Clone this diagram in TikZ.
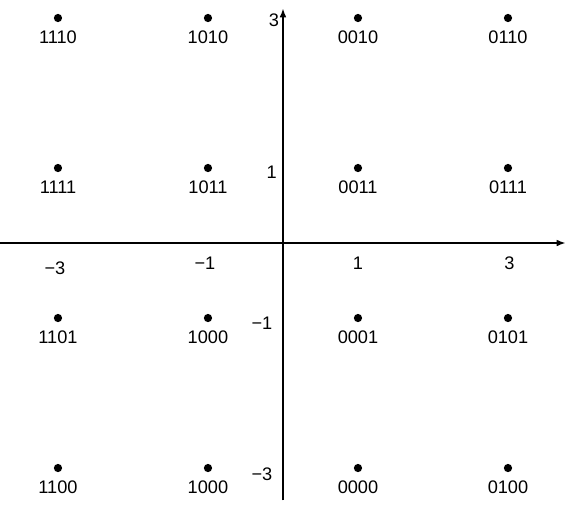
\documentclass[tikz,border=0pt]{standalone}
\usepackage{fontspec}
\setmainfont{Liberation Sans}
\usetikzlibrary{arrows.meta,positioning}

\begin{document}
\begin{tikzpicture}[x=1cm,y=1cm,
  dot/.style={circle,fill=black,inner sep=0pt,minimum size=0.11cm},
  bitlabel/.style={inner sep=0pt,font=\fontsize{6.9}{8}\selectfont},
  ticklabel/.style={inner sep=0pt,font=\fontsize{6.9}{8}\selectfont},
  axis/.style={line width=0.85pt,-{Latex[length=0.12cm,width=0.09cm]}}]
\useasboundingbox (-3.773,-3.547) rectangle (3.88,3.24);
% axes
\coordinate (xstart) at (-3.773,0);
\coordinate (xend) at (3.77,0);
\coordinate (ystart) at (0,-3.43);
\coordinate (yend) at (0,3.13);
\draw[axis] (xstart) -- (xend);
\draw[axis] (ystart) -- (yend);
% tick labels
\node[ticklabel] (xm3) at (-3.04,-0.33) {−3};
\node[ticklabel] (xm1) at (-1.04,-0.27) {−1};
\node[ticklabel] (xp1) at (1,-0.27) {1};
\node[ticklabel] (xp3) at (3.02,-0.27) {3};
\node[ticklabel] (yp3) at (-0.12,2.97) {3};
\node[ticklabel] (yp1) at (-0.15,0.95) {1};
\node[ticklabel] (ym1) at (-0.28,-1.07) {−1};
\node[ticklabel] (ym3) at (-0.28,-3.08) {−3};
% constellation points
\foreach \y/\row in {3/{1110,1010,0010,0110},1/{1111,1011,0011,0111},-1/{1101,1000,0001,0101},-3/{1100,1000,0000,0100}}
{
  \foreach \code [count=\i] in \row
  {
    \pgfmathsetmacro{\x}{2*\i-5}
    \node[dot] (p\i\y) at (\x,\y) {};
    \node[bitlabel,below=0.1cm of p\i\y] (b\i\y) {\code};
  }
}
\end{tikzpicture}
\end{document}
